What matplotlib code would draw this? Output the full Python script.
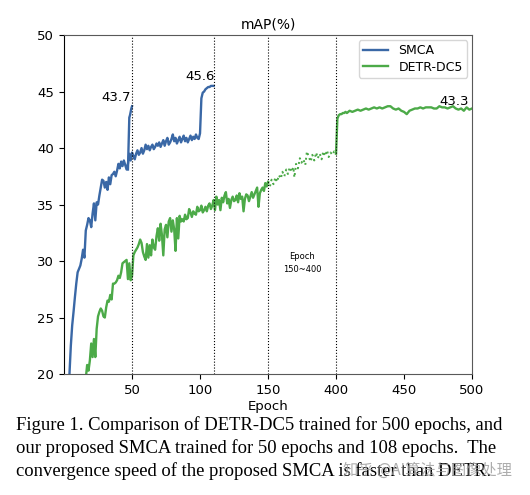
import numpy as np
import matplotlib
matplotlib.use('Agg')
import matplotlib.pyplot as plt

# SMCA, 108-epoch run
smca_ep = np.arange(4, 111)
smca_map = [20.0, 22.5, 24.3, 25.5, 26.8, 28.0, 29.0, 29.3, 29.6, 30.2,
            31.0, 30.3, 32.7, 33.2, 33.8, 33.6, 33.0, 34.2, 35.1, 33.6,
            35.2, 35.0, 35.8, 36.5, 37.2, 37.1, 36.5, 37.0, 36.3, 37.4,
            36.8, 37.6, 37.7, 37.9, 37.5, 38.0, 38.6, 38.2, 38.8, 38.4,
            38.9, 38.5, 38.1, 38.6, 39.5, 38.9, 39.6, 39.3, 39.0, 39.5,
            39.8, 39.4, 39.6, 40.0, 39.5, 39.8, 40.3, 39.9, 40.2, 39.8,
            40.1, 40.3, 39.9, 40.1, 40.4, 40.2, 40.5, 40.1, 40.4, 40.7,
            40.2, 40.6, 40.9, 40.3, 40.5, 40.8, 41.2, 40.6, 40.9, 40.4,
            40.7, 41.0, 40.5, 40.8, 41.1, 40.6, 40.9, 40.5, 40.8, 41.1,
            40.7, 41.0, 40.8, 41.2, 40.9, 40.8, 41.3, 44.4, 44.9, 45.0,
            45.2, 45.3, 45.4, 45.4, 45.5, 45.5, 45.5]
# SMCA, 50-epoch run (branch at the end)
smca50_ep = [47, 48, 48.5, 49, 49.5, 50]
smca50_map = [38.1, 42.7, 42.9, 43.2, 43.5, 43.7]

# DETR-DC5, epochs 16-150
detr_ep1 = np.arange(16, 151)
detr_map1 = [19.6, 20.8, 20.3, 21.2, 22.7, 21.5, 23.1, 21.5, 24.0, 25.1,
             25.5, 25.8, 25.6, 25.1, 25.0, 25.9, 26.5, 26.4, 27.0, 26.6,
             28.0, 28.0, 28.1, 28.3, 28.7, 28.5, 29.0, 29.8, 29.9, 30.0,
             30.1, 28.4, 29.8, 28.3, 28.7, 30.5, 30.8, 31.0, 31.2, 31.5,
             31.9, 31.6, 30.8, 30.4, 30.1, 31.5, 30.3, 31.4, 30.5, 31.9,
             31.2, 31.0, 32.2, 32.9, 31.8, 33.3, 32.3, 30.5, 32.8, 33.2,
             32.1, 33.5, 33.8, 32.6, 33.6, 32.8, 30.9, 33.8, 32.0, 34.0,
             33.5, 33.7, 33.5, 34.1, 33.7, 33.8, 34.6, 34.3, 33.9, 34.4,
             34.2, 34.1, 34.8, 34.4, 34.5, 34.9, 34.3, 34.5, 34.8, 34.4,
             34.9, 35.1, 34.6, 34.9, 35.4, 34.5, 35.7, 35.0, 35.4, 34.5,
             35.6, 35.2, 35.8, 36.1, 35.1, 35.5, 34.7, 35.4, 35.7, 35.3,
             35.4, 35.8, 35.2, 36.0, 35.5, 35.7, 34.4, 35.5, 35.9, 35.8,
             35.3, 35.7, 36.1, 35.6, 35.9, 36.2, 36.5, 34.8, 36.0, 36.3,
             36.5, 36.2, 36.9, 36.6, 37.0]
# DETR-DC5, epochs 150-400 (compressed, dotted)
detr_ep2 = [150, 157, 163, 170, 177, 183, 190, 197, 203, 210, 217, 223, 230,
            237, 243, 247, 253, 260, 267, 273, 280, 287, 293, 300, 307, 313,
            320, 327, 333, 340, 347, 353, 360, 367, 373, 380, 387, 393, 400]
detr_map2 = [37.0, 36.6, 37.2, 36.8, 37.4, 37.0, 37.6, 37.3, 37.9, 37.5,
             38.1, 37.7, 38.3, 37.9, 38.3, 37.4, 38.6, 38.2, 39.1, 38.7,
             39.0, 38.5, 39.7, 39.2, 38.8, 39.4, 38.9, 39.6, 39.1, 39.5,
             39.0, 39.7, 39.3, 39.8, 39.2, 39.6, 39.4, 39.7, 39.5]
# DETR-DC5, epochs 400-500
detr_ep3 = [400, 401, 402, 403, 404, 405, 406, 407, 408, 409, 410, 412, 414,
            416, 418, 420, 422, 424, 426, 428, 430, 432, 434, 436, 438, 440,
            442, 444, 446, 448, 450, 452, 454, 456, 458, 460, 462, 464, 466,
            468, 470, 472, 474, 476, 478, 480, 482, 484, 486, 488, 490, 492,
            494, 496, 498, 500]
detr_map3 = [39.5, 42.6, 42.9, 43.0, 43.0, 43.1, 43.1, 43.2, 43.1, 43.2,
             43.3, 43.2, 43.3, 43.4, 43.3, 43.4, 43.5, 43.4, 43.5, 43.6,
             43.5, 43.6, 43.5, 43.6, 43.7, 43.7, 43.5, 43.4, 43.5, 43.3,
             43.2, 43.0, 43.3, 43.4, 43.5, 43.5, 43.6, 43.5, 43.6, 43.6,
             43.6, 43.5, 43.5, 43.7, 43.6, 43.6, 43.5, 43.6, 43.7, 43.5,
             43.4, 43.5, 43.3, 43.6, 43.4, 43.5]

vlines = [50, 110, 150, 400]
xticks = [50, 100, 150, 400, 450, 500]

c_smca = '#3a68a6'
c_detr = '#4caa48'


def squash(e):
    # epochs 150-400 get squeezed into one 50-wide slot
    e = np.asarray(e, dtype=float)
    return np.where(e <= 150, e,
                    np.where(e <= 400, 150 + (e - 150) * 0.2, e - 200))


fig = plt.figure(figsize=(5.3, 4.95), dpi=100)
ax = fig.add_axes([0.1208, 0.2444, 0.7698, 0.6848])

ax.plot(squash(smca_ep), smca_map, color=c_smca, lw=1.7, label='SMCA')
ax.plot(squash(smca50_ep), smca50_map, color=c_smca, lw=1.7)
ax.plot(squash(detr_ep1), detr_map1, color=c_detr, lw=1.7, label='DETR-DC5')
ax.plot(squash(detr_ep2), detr_map2, color=c_detr, lw=1.4, ls=':')
ax.plot(squash(detr_ep3), detr_map3, color=c_detr, lw=1.7)

for v in vlines:
    ax.axvline(squash(v), color='black', lw=0.8, ls=':')

ax.text(squash(50) - 12, 43.9, '43.7', fontsize=9.5, ha='center', va='bottom')
ax.text(squash(108) - 8, 45.8, '45.6', fontsize=9.5, ha='center', va='bottom')
ax.text(squash(487), 43.5, '43.3', fontsize=9.5, ha='center', va='bottom')
ax.text(squash(275), 29.8, 'Epoch\n150~400', fontsize=6, ha='center',
        va='center', linespacing=1.6)

ax.set_xlim(0, 300)
ax.set_ylim(20, 50)
ax.set_xticks(squash(xticks))
ax.set_xticklabels([str(t) for t in xticks])
ax.set_yticks([20, 25, 30, 35, 40, 45, 50])
ax.tick_params(labelsize=9.5, length=3.5)
ax.set_xlabel('Epoch', fontsize=9.5, labelpad=2)
ax.set_title('mAP(%)', fontsize=10, pad=5)
for s in ['top', 'right', 'bottom']:
    ax.spines[s].set_color('0.35')
ax.spines['left'].set_color('black')

ax.legend(loc='upper right', fontsize=9, handlelength=2.0, labelspacing=0.25,
          borderpad=0.35, handletextpad=0.8, borderaxespad=0.4)

cap = ['Figure 1. Comparison of DETR-DC5 trained for 500 epochs, and',
       'our proposed SMCA trained for 50 epochs and 108 epochs.  The',
       'convergence speed of the proposed SMCA is faster than DETR.']
for i, line in enumerate(cap):
    fig.text(16 / 530, 1 - (425 + 23 * i) / 495, line, fontsize=13.4,
             family='Liberation Serif', va='center', ha='left')
fig.text(512 / 530, 1 - 470 / 495, '知乎 @AI算法与图像处理', fontsize=11,
         family=['Noto Sans CJK SC', 'DejaVu Sans'], color='0.6', alpha=0.8,
         ha='right', va='center')

fig.savefig('out.png', dpi=100)
